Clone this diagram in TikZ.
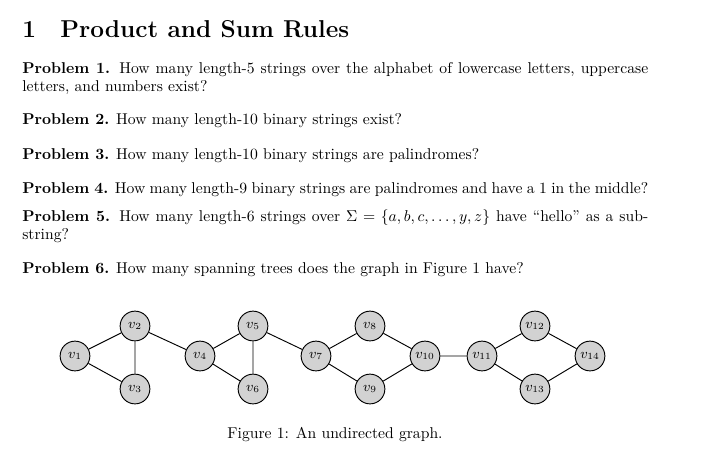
\documentclass[tikz,border=0pt]{standalone}
\begin{document}
\begin{tikzpicture}[x=0.639pt,y=-0.639pt,
  vtx/.style={circle,draw,line width=0.6pt,fill=gray!35,minimum size=19pt,inner sep=0pt,font=\small},
  para/.style={anchor=base west,text width=400pt,align=justify,inner sep=0pt},
  edge/.style={line width=0.6pt}]
\useasboundingbox (0,0) rectangle (705,460);
\node[anchor=base west,inner sep=0pt,font=\fontsize{15.6}{18}\selectfont\bfseries] (sec) at (22,37) {1\hspace{1em}Product and Sum Rules};
\node[para] (p1) at (22,73) {\textbf{Problem 1.} How many length-5 strings over the alphabet of lowercase letters, uppercase letters, and numbers exist?};
\node[para] (p2) at (22,124) {\textbf{Problem 2.} How many length-10 binary strings exist?};
\node[para] (p3) at (22,159) {\textbf{Problem 3.} How many length-10 binary strings are palindromes?};
\node[para] (p4) at (22,193) {\textbf{Problem 4.} How many length-9 binary strings are palindromes and have a 1 in the middle?};
\node[para] (p5) at (22,221) {\textbf{Problem 5.} How many length-6 strings over $\Sigma=\{a,b,c,\ldots,y,z\}$ have ``hello'' as a sub-\linebreak string?};
\node[para] (p6) at (22,273) {\textbf{Problem 6.} How many spanning trees does the graph in Figure 1 have?};
\node[vtx] (v1) at (75,356) {$v_1$};
\node[vtx] (v2) at (135,326) {$v_2$};
\node[vtx] (v3) at (135,389) {$v_3$};
\node[vtx] (v4) at (200,356) {$v_4$};
\node[vtx] (v5) at (253,326) {$v_5$};
\node[vtx] (v6) at (253,389) {$v_6$};
\node[vtx] (v7) at (316,356) {$v_7$};
\node[vtx] (v8) at (370,326) {$v_8$};
\node[vtx] (v9) at (370,389) {$v_9$};
\node[vtx] (v10) at (425,356) {$v_{10}$};
\node[vtx] (v11) at (482,356) {$v_{11}$};
\node[vtx] (v12) at (535,326) {$v_{12}$};
\node[vtx] (v13) at (535,389) {$v_{13}$};
\node[vtx] (v14) at (590,356) {$v_{14}$};
\draw[edge] (v1)--(v2) (v1)--(v3) (v2)--(v3) (v2)--(v4) (v4)--(v5) (v4)--(v6) (v5)--(v6) (v5)--(v7)
  (v7)--(v8) (v7)--(v9) (v8)--(v10) (v9)--(v10) (v10)--(v11) (v11)--(v12) (v11)--(v13) (v12)--(v14) (v13)--(v14);
\node[anchor=base,inner sep=0pt] (cap) at (335,438) {Figure 1: An undirected graph.};
\end{tikzpicture}
\end{document}
